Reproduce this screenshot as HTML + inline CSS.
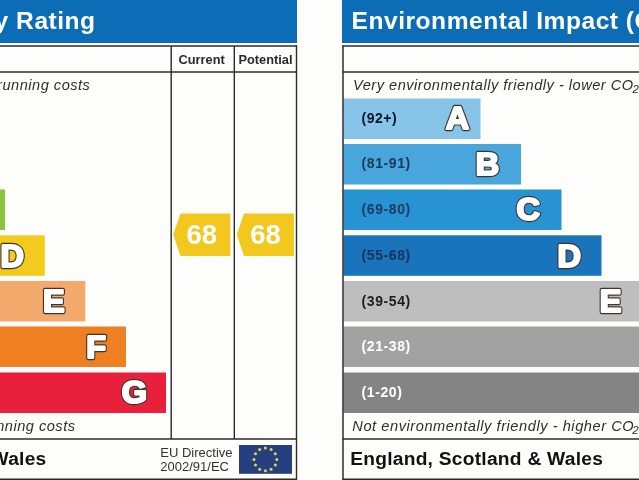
<!DOCTYPE html>
<html>
<head>
<meta charset="utf-8">
<title>EPC</title>
<style>
html,body{margin:0;padding:0;background:#fdfdfb;}
body{width:639px;height:480px;overflow:hidden;position:relative;}
svg{position:absolute;left:0;top:0;display:block;}
text{font-family:"Liberation Sans",Arial,sans-serif;}
.title{font-weight:bold;font-size:24.6px;fill:#fff;letter-spacing:0.5px;}
.hd{font-weight:bold;font-size:12.8px;fill:#2a2a2a;}
.it{font-style:italic;font-size:14.6px;fill:#2e2e2e;letter-spacing:0.5px;}
.sub{font-style:italic;font-size:11.5px;fill:#2e2e2e;}
.foot{font-weight:bold;font-size:19.2px;fill:#111;letter-spacing:0.25px;}
.eu{font-size:13px;fill:#333;}
.rng{font-weight:bold;font-size:14px;letter-spacing:0.58px;}
.let{font-weight:bold;font-size:31.5px;text-anchor:middle;stroke-linejoin:round;}
.lo{fill:#40352a;stroke:#40352a;stroke-width:4.4px;}
.li{fill:#fff;stroke:#fff;stroke-width:2.2px;}
.num{font-weight:bold;font-size:27.5px;fill:#fff;text-anchor:middle;}
</style>
</head>
<body>
<svg width="639" height="480" viewBox="0 0 639 480">
  <rect x="0" y="0" width="639" height="480" fill="#fdfdfb"/>

  <!-- LEFT PANEL -->
  <rect x="0" y="0" width="297" height="43" fill="#0d6cb6"/>
  <text class="title" x="-5.4" y="29">y Rating</text>

  <!-- bars left -->
  <rect x="0" y="189.5" width="5" height="40.5" fill="#8cc43f"/>
  <rect x="0" y="235.3" width="44.8" height="40.5" fill="#f3cb1d"/>
  <rect x="0" y="281" width="85.3" height="40.5" fill="#f4aa6c"/>
  <rect x="0" y="326.5" width="126" height="40.5" fill="#ee8022"/>
  <rect x="0" y="372.5" width="166" height="40.5" fill="#e8203c"/>

  <g transform="translate(12.1,267.3) scale(1.03,1)"><text class="let lo">D</text><text class="let li">D</text></g>
  <g transform="translate(53.8,311.55) scale(1.03,1)"><text class="let lo">E</text><text class="let li">E</text></g>
  <g transform="translate(96.1,357.8) scale(1.03,1)"><text class="let lo">F</text><text class="let li">F</text></g>
  <g transform="translate(134.35,402.8) scale(1.03,1)"><text class="let lo">G</text><text class="let li">G</text></g>

  <text class="it" x="-2.9" y="90">running costs</text>
  <text class="it" x="-17.8" y="431">running costs</text>
  <text class="foot" x="-9.5" y="465">Wales</text>

  <!-- grid left -->
  <g stroke="#2b2b2b" stroke-width="1.4" fill="none">
    <line x1="0" y1="46" x2="297" y2="46"/>
    <line x1="0" y1="72" x2="297" y2="72"/>
    <line x1="0" y1="439" x2="297" y2="439"/>
    <line x1="0" y1="479.2" x2="297" y2="479.2"/>
    <line x1="171.2" y1="46" x2="171.2" y2="439"/>
    <line x1="234.3" y1="46" x2="234.3" y2="439"/>
    <line x1="296.5" y1="45.3" x2="296.5" y2="480"/>
  </g>
  <text class="hd" x="178.5" y="63.5">Current</text>
  <text class="hd" x="238.5" y="63.5">Potential</text>

  <!-- arrows -->
  <polygon points="173.2,234.6 180.5,213.5 230.3,213.5 230.3,256 180.5,256" fill="#f3c81e"/>
  <polygon points="236.8,234.6 244,213.5 293.9,213.5 293.9,256 244,256" fill="#f3c81e"/>
  <text class="num" x="201.7" y="243.6">68</text>
  <text class="num" x="265.5" y="243.6">68</text>

  <!-- EU -->
  <text class="eu" x="160.3" y="457">EU Directive</text>
  <text class="eu" x="160.3" y="471">2002/91/EC</text>
  <rect x="239" y="445" width="53" height="28.8" fill="#263f7e"/>
  <g fill="#dcd858"><circle cx="265.4" cy="448.0" r="1.5"/><circle cx="271.1" cy="449.5" r="1.5"/><circle cx="275.3" cy="453.7" r="1.5"/><circle cx="276.8" cy="459.4" r="1.5"/><circle cx="275.3" cy="465.1" r="1.5"/><circle cx="271.1" cy="469.3" r="1.5"/><circle cx="265.4" cy="470.8" r="1.5"/><circle cx="259.7" cy="469.3" r="1.5"/><circle cx="255.5" cy="465.1" r="1.5"/><circle cx="254.0" cy="459.4" r="1.5"/><circle cx="255.5" cy="453.7" r="1.5"/><circle cx="259.7" cy="449.5" r="1.5"/></g>

  <!-- RIGHT PANEL -->
  <rect x="342" y="0" width="297" height="43" fill="#0d6cb6"/>
  <text class="title" x="351.6" y="29">Environmental Impact (CO</text>

  <rect x="343.5" y="98.5" width="137" height="40.5" fill="#86c4e8"/>
  <rect x="343.5" y="144" width="177.5" height="40.5" fill="#48a6dc"/>
  <rect x="343.5" y="189.5" width="218" height="40.5" fill="#2893d2"/>
  <rect x="343.5" y="235.3" width="258" height="40.5" fill="#1a74bc"/>
  <rect x="343.5" y="281" width="296" height="40.5" fill="#bebebe"/>
  <rect x="343.5" y="326.5" width="296" height="40.5" fill="#a2a2a2"/>
  <rect x="343.5" y="372.5" width="296" height="40.5" fill="#848484"/>

  <text class="rng" x="361.6" y="123" fill="#08142e" style="letter-spacing:0.5px">(92+)</text>
  <text class="rng" x="361.6" y="168" fill="#1b3858">(81-91)</text>
  <text class="rng" x="361.6" y="214.2" fill="#1c3c62">(69-80)</text>
  <text class="rng" x="361.6" y="259.5" fill="#17325c">(55-68)</text>
  <text class="rng" x="361.6" y="305.5" fill="#1c1c1c">(39-54)</text>
  <text class="rng" x="361.6" y="351" fill="#ffffff">(21-38)</text>
  <text class="rng" x="361.6" y="397" fill="#ffffff">(1-20)</text>

  <g transform="translate(457.5,129.05) scale(1.03,1)"><text class="let lo">A</text><text class="let li">A</text></g>
  <g transform="translate(487.5,174.7) scale(1.03,1)"><text class="let lo">B</text><text class="let li">B</text></g>
  <g transform="translate(528.25,220.2) scale(1.03,1)"><text class="let lo">C</text><text class="let li">C</text></g>
  <g transform="translate(569.2,267.3) scale(1.03,1)"><text class="let lo">D</text><text class="let li">D</text></g>
  <g transform="translate(610.65,311.55) scale(1.03,1)"><text class="let lo">E</text><text class="let li">E</text></g>

  <text class="it" x="353" y="90">Very environmentally friendly - lower CO</text>
  <text class="sub" x="632.6" y="93.4">2</text>
  <text class="it" x="352.3" y="431" style="letter-spacing:0.56px">Not environmentally friendly - higher CO</text>
  <text class="sub" x="632.3" y="434.4">2</text>
  <text class="foot" x="350.2" y="465">England, Scotland &amp; Wales</text>

  <g stroke="#2b2b2b" stroke-width="1.4" fill="none">
    <line x1="342.5" y1="46" x2="639" y2="46"/>
    <line x1="342.5" y1="72" x2="639" y2="72"/>
    <line x1="342.5" y1="439" x2="639" y2="439"/>
    <line x1="342.5" y1="479.2" x2="639" y2="479.2"/>
    <line x1="343" y1="45.3" x2="343" y2="480" stroke-width="1.5"/>
  </g>
</svg>
</body>
</html>
